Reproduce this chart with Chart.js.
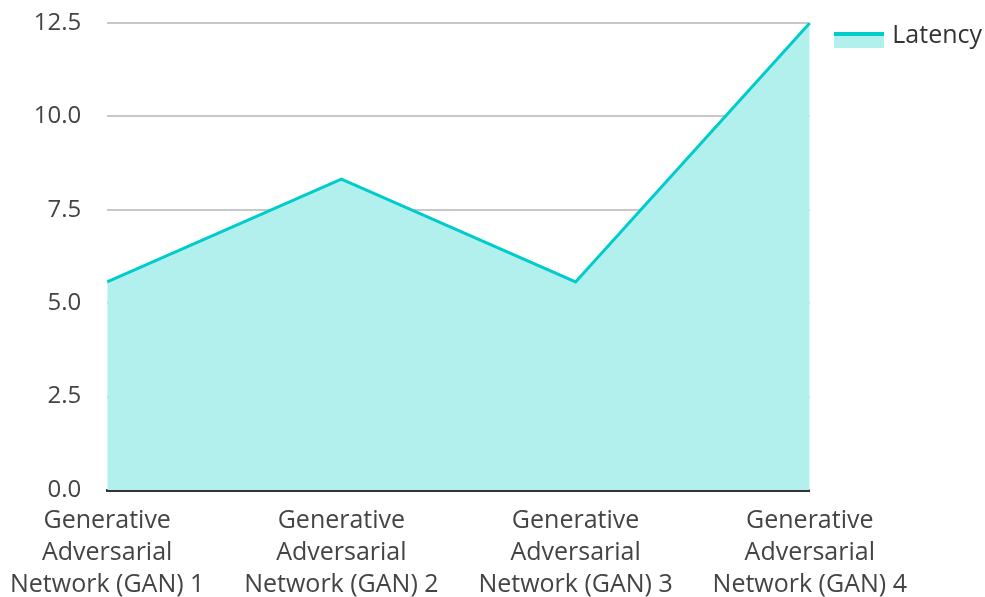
<html>
<body style="margin:0;">
<div style="width:985px;height:597px;">
    <canvas id="latency_chart"></canvas>
</div>

<script src="https://cdn.jsdelivr.net/npm/chart.js"></script>

<script>
    var labels = [
        ['Generative', 'Adversarial', 'Network (GAN) 1'],
        ['Generative', 'Adversarial', 'Network (GAN) 2'],
        ['Generative', 'Adversarial', 'Network (GAN) 3'],
        ['Generative', 'Adversarial', 'Network (GAN) 4']
    ];
    var latency = [5.57, 8.32, 5.57, 12.5];
    var y_ticks = [0, 2.5, 5, 7.5, 10, 12.5];

    var lineColor = '#00cccc';
    var fillColor = '#b2f0ee';

    // legend swatch: line on top, fill below, sits a bit under the text centre
    var swatch = document.createElement('canvas');
    swatch.width = 50;
    swatch.height = 25;
    var sctx = swatch.getContext('2d');
    sctx.fillStyle = fillColor;
    sctx.fillRect(0, 9, 50, 16);
    sctx.fillStyle = lineColor;
    sctx.fillRect(0, 9, 50, 4);

    Chart.defaults.font.family = "'Open Sans', sans-serif";
    Chart.defaults.font.size = 25;
    Chart.defaults.font.lineHeight = 1.28;
    Chart.defaults.color = '#444';

    var latencyChart = new Chart(document.getElementById('latency_chart'), {
        type: 'line',
        data: {
            labels: labels,
            datasets: [
                {
                    label: 'Latency',
                    data: latency,
                    borderColor: lineColor,
                    backgroundColor: fillColor,
                    borderWidth: 3,
                    fill: true,
                    tension: 0,
                    pointRadius: 0,
                    pointStyle: swatch
                }
            ]
        },
        options: {
            responsive: true,
            maintainAspectRatio: false,
            animation: false,
            layout: {
                padding: {top: -5, right: -7, left: 9, bottom: -11}
            },
            plugins: {
                legend: {
                    position: 'right',
                    align: 'start',
                    labels: {
                        usePointStyle: true,
                        pointStyleWidth: 42,
                        color: '#333',
                        padding: 28
                    }
                },
                tooltip: {enabled: false}
            },
            scales: {
                x: {
                    offset: false,
                    grid: {display: false},
                    border: {color: '#333', width: 3},
                    afterFit: axis => {
                        axis.paddingLeft += 3;
                    },
                    ticks: {maxRotation: 0, autoSkip: false, padding: 7}
                },
                y: {
                    min: 0,
                    max: 12.5,
                    afterBuildTicks: axis => {
                        axis.ticks = y_ticks.map(v => ({value: v}));
                    },
                    afterFit: axis => {
                        axis.paddingTop = 23;
                    },
                    grid: {color: '#c8c8c8', lineWidth: 2, tickLength: 23, tickColor: 'rgba(0,0,0,0)'},
                    border: {display: false},
                    ticks: {
                        padding: 3,
                        font: {size: 24},
                        callback: v => v.toFixed(1)
                    }
                }
            }
        }
    });
</script>
</body>
</html>
